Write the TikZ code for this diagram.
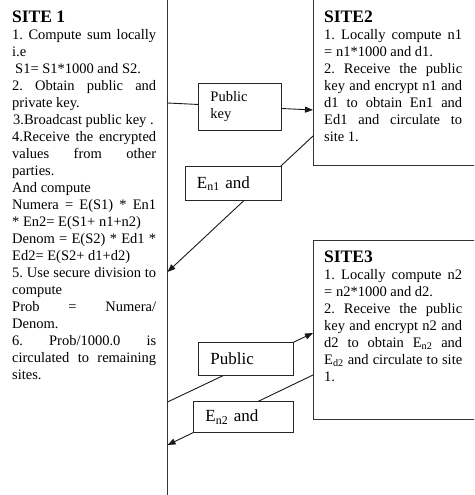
\documentclass[tikz,border=0pt]{standalone}
\usepackage{fontspec}
\setmainfont{Liberation Serif}
\usetikzlibrary{arrows.meta}
\newcommand{\jl}[2][138pt]{\makebox[#1][s]{#2}}
\newcommand{\ttl}[1]{{\fontsize{17.5}{17}\selectfont\bfseries #1}}
\begin{document}
\frenchspacing
\begin{tikzpicture}[x=1pt,y=-1pt,
  site/.style={draw=black!80,line width=1pt},
  txt/.style={anchor=north west,inner sep=0pt,align=left,font=\fontsize{14.5}{17}\selectfont\frenchspacing},
  msg/.style={draw=black!85,fill=white,line width=0.9pt,anchor=north west,inner ysep=0pt,align=left},
  flow/.style={-{Triangle[length=8pt,width=6pt]},line width=0.9pt,black!90}]
\useasboundingbox (0,0) rectangle (474,495);
\clip (0,0) rectangle (474,495);
% the three sites
\draw[site] (-5,-5) rectangle (167.5,500);
\draw[site] (313,-5) rectangle (480,165);
\draw[site] (313,240) rectangle (480,419);
\node[txt] (S1) at (12,11) {\ttl{SITE 1}\\
\jl[144pt]{1. Compute sum locally}\\
i.e\\
\hspace{3pt}S1= S1*1000 and S2.\\
\jl[144pt]{2. Obtain public and}\\
private key.\\
\hspace{1pt}3.Broadcast public key .\\
\jl[144pt]{4.Receive the encrypted}\\
\jl[144pt]{values from other}\\
parties.\\
And compute\\
\jl[144pt]{Numera = E(S1) * En1}\\
{}* En2= E(S1+ n1+n2)\\
\jl[144pt]{Denom = E(S2) * Ed1 *}\\
Ed2= E(S2+ d1+d2)\\
\jl[144pt]{5. Use secure division to}\\
compute\\
\jl[144pt]{Prob = Numera/}\\
Denom.\\
\jl[144pt]{6. Prob/1000.0 is}\\
\jl[144pt]{circulated to remaining}\\
sites.};
\node[txt] (S2) at (324,11) {\ttl{SITE2}\\
\jl{1. Locally compute n1}\\
= n1*1000 and d1.\\
\jl{2. Receive the public}\\
\jl{key and encrypt n1 and}\\
\jl{d1 to obtain En1 and}\\
\jl{Ed1 and circulate to}\\
site 1.};
\node[txt] (S3) at (324,251) {\ttl{SITE3}\\
\jl{1. Locally compute n2}\\
= n2*1000 and d2.\\
\jl{2. Receive the public}\\
\jl{key and encrypt n2 and}\\
\jl{d2 to obtain E\textsubscript{n2} and}\\
\jl{E\textsubscript{d2} and circulate to site}\\
1.};
% end points on the site boxes
\coordinate (s1a) at (167.5,103);
\coordinate (s2a) at (313,110);
\coordinate (s2b) at (313,136);
\coordinate (s1b) at (167.5,272);
\coordinate (s1c) at (167.5,402);
\coordinate (s3a) at (313,333);
\coordinate (s3b) at (313,375);
\coordinate (s1d) at (167.5,445);
\draw[flow] (s1a) -- (s2a);
\draw[flow] (s2b) -- (s1b);
\draw[flow] (s1c) -- (s3a);
\draw[flow] (s3b) -- (s1d);
% messages
\node[msg,inner xsep=12pt,text width=59pt,minimum width=83pt,minimum height=47pt,font=\fontsize{14.5}{17}\selectfont] (PK2) at (198,83) {Public\\key};
\node[msg,inner xsep=11.5pt,text width=73pt,minimum width=96pt,minimum height=34pt,font=\fontsize{17}{19}\selectfont] (E2) at (185,166) {E\textsubscript{n1} and};
\node[msg,inner xsep=12pt,text width=71pt,minimum width=95pt,minimum height=33pt,font=\fontsize{17}{19}\selectfont] (PK3) at (198,342) {Public};
\node[msg,inner xsep=12pt,text width=76pt,minimum width=100pt,minimum height=31pt,font=\fontsize{17}{19}\selectfont] (E3) at (193,401) {E\textsubscript{n2} and};
\end{tikzpicture}
\end{document}
